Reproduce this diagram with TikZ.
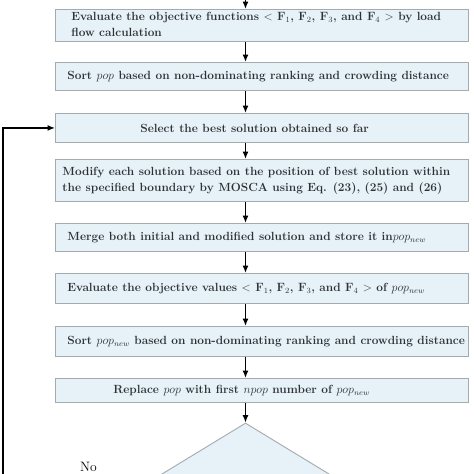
\documentclass[tikz,border=0pt]{standalone}
\usetikzlibrary{arrows.meta,shapes.geometric}
\definecolor{boxfill}{HTML}{E6F1F8}
\definecolor{boxline}{HTML}{A3ABAE}
\definecolor{txt}{HTML}{2E3134}
\newcommand{\bxt}[2]{\makebox[413pt][l]{\hspace*{#1}#2}}
\newcommand{\twolines}[2]{\begin{tabular}{@{}l@{}}#1\\#2\end{tabular}}
\begin{document}
\begin{tikzpicture}[x=1pt,y=-1pt,
  box/.style={draw=boxline, fill=boxfill, line width=0.9pt, inner sep=0pt,
    minimum width=413pt, text=txt, anchor=north west,
    font=\bfseries\fontsize{11.85}{15.5}\selectfont},
  conn/.style={line width=1.3pt, -{Latex[length=7.5pt,width=6pt]}},
  dec/.style={diamond, draw=boxline, fill=boxfill, line width=0.9pt, inner sep=0pt,
    minimum width=220pt, minimum height=134pt},
  lbl/.style={font=\fontsize{13.6}{15}\selectfont, anchor=base west, inner sep=0pt}
]
\useasboundingbox (0,0) rectangle (474,474);
\clip (0,0) rectangle (474,474);
\coordinate (ax) at (245.5,-10);
\coordinate (lp) at (3,0);

\node[box, minimum height=32pt] (b1) at (55,9) {\bxt{16pt}{\twolines{Evaluate the objective functions $<$ $\mathbf{F}_1$, $\mathbf{F}_2$, $\mathbf{F}_3$, and $\mathbf{F}_4$ $>$ by load}{flow calculation}}};
\node[box, minimum height=28pt] (b2) at (55,62) {\bxt{12pt}{Sort $pop$ based on non-dominating ranking and crowding distance}};
\node[box, minimum height=29pt] (b3) at (55,113) {\bxt{85pt}{Select the best solution obtained so far}};
\node[box, minimum height=42pt] (b4) at (55,159) {\bxt{7pt}{\twolines{Modify each solution based on the position of best solution within}{the specified boundary by MOSCA using Eq. (23), (25) and (26)}}};
\node[box, minimum height=28pt] (b5) at (55,223) {\bxt{12pt}{Merge both initial and modified solution and store it in$pop_{new}$}};
\node[box, minimum height=30pt] (b6) at (55,273) {\bxt{12pt}{Evaluate the objective values $<$ $\mathbf{F}_1$, $\mathbf{F}_2$, $\mathbf{F}_3$, and $\mathbf{F}_4$ $>$ of $pop_{new}$}};
\node[box, minimum height=30pt] (b7) at (55,326) {\bxt{12pt}{Sort $pop_{new}$ based on non-dominating ranking and crowding distance}};
\node[box, minimum height=24pt] (b8) at (55,378) {\bxt{58pt}{Replace $pop$ with first $npop$ number of $pop_{new}$}};
\node[dec] (dia) at (245.5,490) {};
\node[lbl] (no) at (80,471.5) {No};

\draw[conn] (ax) -- (b1.north -| ax);
\draw[conn] (b1.south -| ax) -- (b2.north -| ax);
\draw[conn] (b2.south -| ax) -- (b3.north -| ax);
\draw[conn] (b3.south -| ax) -- (b4.north -| ax);
\draw[conn] (b4.south -| ax) -- (b5.north -| ax);
\draw[conn] (b5.south -| ax) -- (b6.north -| ax);
\draw[conn] (b6.south -| ax) -- (b7.north -| ax);
\draw[conn] (b7.south -| ax) -- (b8.north -| ax);
\draw[conn] (b8.south -| ax) -- (dia.north);
\draw[conn] (dia.west) -- (dia.west -| lp) |- (b3.west);
\end{tikzpicture}
\end{document}
